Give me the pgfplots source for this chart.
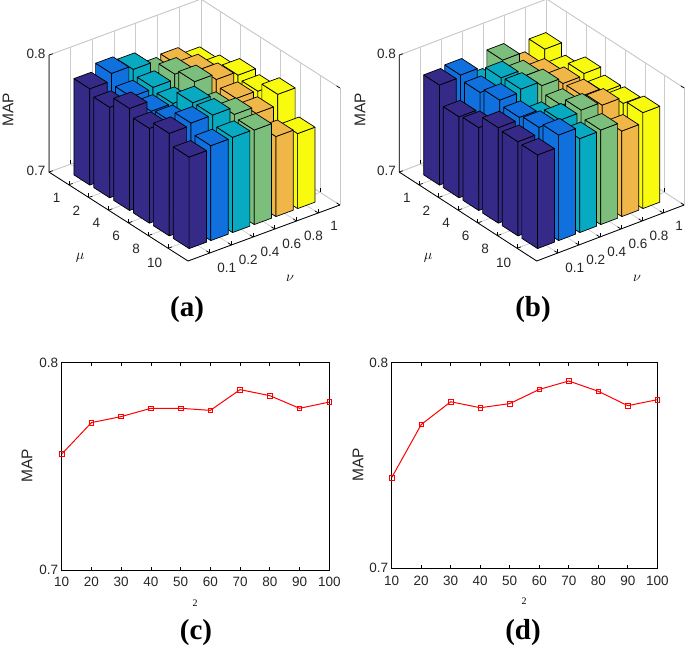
\documentclass[border=0pt]{standalone}
\usepackage{fontspec}
\setmainfont{Liberation Sans}
\newfontfamily\capfont{Liberation Serif}
\usepackage{pgfplots}
\pgfplotsset{compat=1.18}

\definecolor{c1}{HTML}{352A87}
\definecolor{c2}{HTML}{0F70DE}
\definecolor{c3}{HTML}{07AAC0}
\definecolor{c4}{HTML}{7CBF7C}
\definecolor{c5}{HTML}{F0B748}
\definecolor{c6}{HTML}{F9FB0E}
\definecolor{ticktext}{gray}{0.15}

% one bar: x position, mu position (1 = back), value, colour
\newcommand{\onebar}[4]{%
  \pgfmathsetmacro\xl{#1-0.4}\pgfmathsetmacro\xr{#1+0.4}%
  \pgfmathsetmacro\yb{7-#2+0.4}\pgfmathsetmacro\yf{7-#2-0.4}%
  \addplot3[fill=#4,draw=black,line width=.7pt,line join=round,forget plot] coordinates
    {(\xl,\yb,0.7) (\xl,\yf,0.7) (\xl,\yf,#3) (\xl,\yb,#3) (\xl,\yb,0.7)};
  \addplot3[fill=#4,draw=black,line width=.7pt,line join=round,forget plot] coordinates
    {(\xl,\yf,0.7) (\xr,\yf,0.7) (\xr,\yf,#3) (\xl,\yf,#3) (\xl,\yf,0.7)};
  \addplot3[fill=#4,draw=black,line width=.7pt,line join=round,forget plot] coordinates
    {(\xl,\yb,#3) (\xl,\yf,#3) (\xr,\yf,#3) (\xr,\yb,#3) (\xl,\yb,#3)};
}
% one row of bars, same colour, back to front
\newcommand{\barrow}[8]{%
  \onebar{#1}{1}{#3}{#2}\onebar{#1}{2}{#4}{#2}\onebar{#1}{3}{#5}{#2}%
  \onebar{#1}{4}{#6}{#2}\onebar{#1}{5}{#7}{#2}\onebar{#1}{6}{#8}{#2}%
}

\pgfplotsset{
  bars3d/.style={
    anchor=south west,
    xmin=0,xmax=7,ymin=0,ymax=7,zmin=0.7,zmax=0.8,
    xtick={1,2,3,4,5,6},xticklabels={0.1,0.2,0.4,0.6,0.8,1},
    ytick={1,2,3,4,5,6},yticklabels={10,8,6,4,2,1},
    ztick={0.7,0.8},zticklabels={0.7,0.8},
    xtick pos=lower,ytick pos=lower,ztick pos=lower,
    grid=major,grid style={black!20,line width=.7pt},
    axis line style={black!22,line width=.7pt},
    tick style={black,line width=.7pt},
    tick align=inside,tickwidth=4pt,
    tick label style={font=\fontsize{13.5}{13.5}\selectfont,text=ticktext},
    xticklabel style={xshift=11pt,yshift=-4pt},
    yticklabel style={xshift=-6pt,yshift=-4pt},
    clip=false,
  },
  lines2d/.style={
    anchor=south west,scale only axis,
    xmin=10,xmax=100,ymin=0.7,ymax=0.8,
    xtick={10,20,...,100},ytick={0.7,0.8},
    yticklabels={0.7,0.8},
    /pgf/number format/assume math mode=true,
    tick align=inside,tickwidth=3pt,
    axis line style={black,line width=.9pt},
    tick style={black,line width=.7pt},
    tick label style={font=\fontsize{13.5}{13.5}\selectfont,text=ticktext},
    xticklabel style={yshift=-4pt},
    clip=false,
  },
  redline/.style={red,line width=1pt,mark=square,mark size=2.3pt,
    mark options={solid,red,line width=.8pt}},
}

\begin{document}
\begin{tikzpicture}[x=1pt,y=1pt]
\useasboundingbox (0,0) rectangle (685,647);

% (a)
\begin{axis}[bars3d,at={(49pt,386pt)},
  x={(21.7pt,8pt)},y={(-19.86pt,12.7pt)},z={(0pt,1170pt)}]
\barrow{6}{c6}{0.7698}{0.7737}{0.7815}{0.7786}{0.7868}{0.7641}
\barrow{5}{c5}{0.7760}{0.7812}{0.7846}{0.7793}{0.7774}{0.7684}
\barrow{4}{c4}{0.7744}{0.7852}{0.7896}{0.7776}{0.7833}{0.7808}
\barrow{3}{c3}{0.7852}{0.7807}{0.7778}{0.7893}{0.7896}{0.7814}
\barrow{2}{c2}{0.7886}{0.7795}{0.7780}{0.7800}{0.7896}{0.7811}
\barrow{1}{c1}{0.7823}{0.7773}{0.7872}{0.7810}{0.7876}{0.7782}
\addplot3[black,line width=.8pt,forget plot] coordinates {(0,7,0.8) (0,7,0.7) (0,0,0.7) (7,0,0.7)};
\end{axis}

% (b)
\begin{axis}[bars3d,at={(399.3pt,386pt)},
  x={(21.06pt,8pt)},y={(-19.63pt,12.7pt)},z={(0pt,1170pt)}]
\barrow{6}{c6}{0.7820}{0.7735}{0.7829}{0.7782}{0.7791}{0.7820}
\barrow{5}{c5}{0.7724}{0.7775}{0.7812}{0.7816}{0.7844}{0.7731}
\barrow{4}{c4}{0.7863}{0.7829}{0.7862}{0.7803}{0.7870}{0.7808}
\barrow{3}{c3}{0.7718}{0.7889}{0.7900}{0.7759}{0.7853}{0.7803}
\barrow{2}{c2}{0.7872}{0.7832}{0.7875}{0.7836}{0.7859}{0.7902}
\barrow{1}{c1}{0.7855}{0.7692}{0.7708}{0.7816}{0.7805}{0.7800}
\addplot3[black,line width=.8pt,forget plot] coordinates {(0,7,0.8) (0,7,0.7) (0,0,0.7) (7,0,0.7)};
\end{axis}

% (c)
\begin{axis}[lines2d,at={(61.7pt,77pt)},width=267.6pt,height=207.3pt]
\addplot[redline] coordinates {(10,0.7559) (20,0.7711) (30,0.7740) (40,0.7780) (50,0.7780)
  (60,0.7770) (70,0.7870) (80,0.7841) (90,0.7780) (100,0.7810)};
\end{axis}

% (d)
\begin{axis}[lines2d,at={(391.7pt,78.7pt)},width=265.6pt,height=205.6pt]
\addplot[redline] coordinates {(10,0.7441) (20,0.7699) (30,0.7810) (40,0.7781) (50,0.7801)
  (60,0.7870) (70,0.7911) (80,0.7861) (90,0.7791) (100,0.7820)};
\end{axis}

\def\maplabel{\fontsize{15.5}{15.5}\selectfont MAP}
\node[rotate=90,text=ticktext] at (8,537) {\maplabel};
\node[rotate=90,text=ticktext] at (360,537) {\maplabel};
\node[rotate=90,text=ticktext] at (27,181) {\maplabel};
\node[rotate=90,text=ticktext] at (358,182) {\maplabel};

\node at (80,389) {\fontsize{14}{14}\selectfont$\mu$};
\node at (290,369) {\fontsize{14}{14}\selectfont$\nu$};
\node at (428,389) {\fontsize{14}{14}\selectfont$\mu$};
\node at (637,369) {\fontsize{14}{14}\selectfont$\nu$};
\node at (195,44) {\capfont\fontsize{10}{10}\selectfont 2};
\node at (524,46) {\capfont\fontsize{10}{10}\selectfont 2};

\node at (187,337) {\capfont\bfseries\fontsize{29}{29}\selectfont (a)};
\node at (533,337) {\capfont\bfseries\fontsize{29}{29}\selectfont (b)};
\node at (196,14) {\capfont\bfseries\fontsize{29}{29}\selectfont (c)};
\node at (523,14) {\capfont\bfseries\fontsize{29}{29}\selectfont (d)};
\end{tikzpicture}
\end{document}
